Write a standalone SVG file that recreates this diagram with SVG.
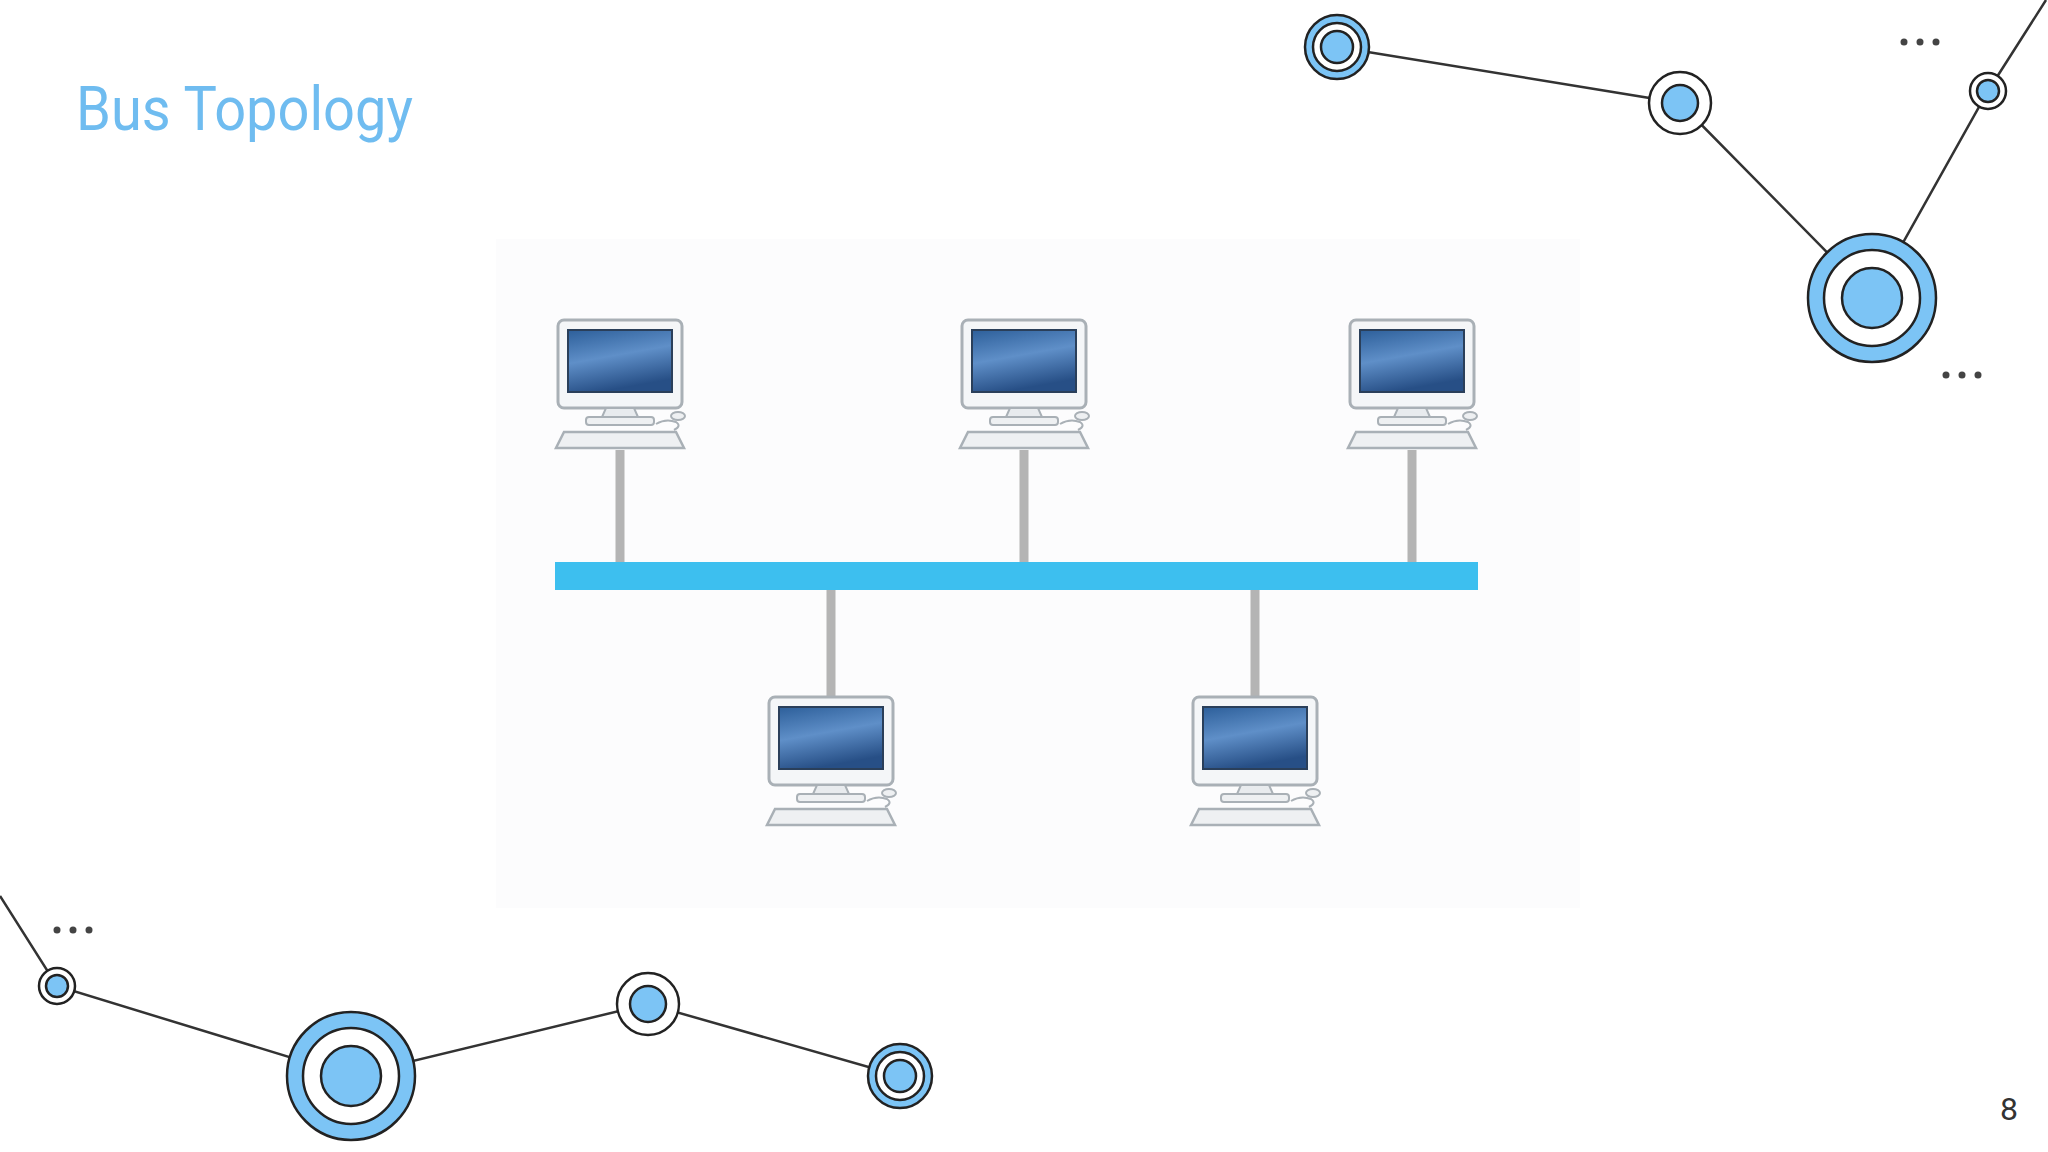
<svg xmlns="http://www.w3.org/2000/svg" width="2048" height="1152" viewBox="0 0 2048 1152">
<defs>
<style>
.ln{stroke:#333;stroke-width:2.5;fill:none}
.b{fill:#7cc4f5;stroke:#222;stroke-width:2.5}
.w{fill:#fff;stroke:#222;stroke-width:2.5}
.dot{fill:#444}
.drop{stroke:#b4b4b4;stroke-width:9}
</style>
<linearGradient id="scr" x1="0" y1="0" x2="0.3" y2="1">
<stop offset="0" stop-color="#2d5f9a"/><stop offset="0.5" stop-color="#5f8fc8"/><stop offset="1" stop-color="#274f86"/>
</linearGradient>
<g id="pc">
<rect x="-62" y="0" width="124" height="88" rx="6" fill="#f4f6f8" stroke="#a9b0b6" stroke-width="3"/>
<rect x="-52" y="10" width="104" height="62" fill="url(#scr)" stroke="#2a3f5a" stroke-width="2"/>
<path d="M-14 88 h28 l4 9 h-36z" fill="#e8ebee" stroke="#a9b0b6" stroke-width="2"/>
<rect x="-34" y="97" width="68" height="8" rx="3" fill="#eef0f2" stroke="#a9b0b6" stroke-width="2"/>
<path d="M-56 112 h112 l8 16 h-128z" fill="#eef0f2" stroke="#a9b0b6" stroke-width="2.5"/>
<path d="M36 104 q10 -6 20 -2 q6 4 -2 8" fill="none" stroke="#a9b0b6" stroke-width="2"/>
<ellipse cx="58" cy="96" rx="7" ry="4" fill="#eef0f2" stroke="#a9b0b6" stroke-width="2"/>
</g>
</defs>
<rect width="2048" height="1152" fill="#fff"/>
<text x="76" y="130" font-family="Roboto, 'Liberation Sans', sans-serif" font-size="62" fill="#6fbcf0" textLength="337" lengthAdjust="spacingAndGlyphs">Bus Topology</text>
<text x="2009" y="1120" font-family="Roboto, 'Liberation Sans', sans-serif" font-size="32" fill="#333" text-anchor="middle">8</text>
<g id="decor-lines">
<path class="ln" d="M1337 47 L1680 103 L1872 298 L1988 91 L2046 0"/>
<path class="ln" d="M0 896 L57 986 L351 1076 L648 1004 L900 1076"/>
</g>
<g id="c1"><circle class="b" cx="1337" cy="47" r="32"/><circle class="w" cx="1337" cy="47" r="24"/><circle class="b" cx="1337" cy="47" r="16"/></g>
<g id="c2"><circle class="w" cx="1680" cy="103" r="31"/><circle class="b" cx="1680" cy="103" r="18"/></g>
<g id="c3"><circle class="w" cx="1988" cy="91" r="18"/><circle class="b" cx="1988" cy="91" r="11"/></g>
<g id="c4"><circle class="b" cx="1872" cy="298" r="64"/><circle class="w" cx="1872" cy="298" r="48"/><circle class="b" cx="1872" cy="298" r="30"/></g>
<g id="c5"><circle class="w" cx="57" cy="986" r="18"/><circle class="b" cx="57" cy="986" r="11"/></g>
<g id="c6"><circle class="b" cx="351" cy="1076" r="64"/><circle class="w" cx="351" cy="1076" r="48"/><circle class="b" cx="351" cy="1076" r="30"/></g>
<g id="c7"><circle class="w" cx="648" cy="1004" r="31"/><circle class="b" cx="648" cy="1004" r="18"/></g>
<g id="c8"><circle class="b" cx="900" cy="1076" r="32"/><circle class="w" cx="900" cy="1076" r="24"/><circle class="b" cx="900" cy="1076" r="16"/></g>
<g id="dots">
<circle class="dot" cx="1904" cy="42" r="3.5"/><circle class="dot" cx="1920" cy="42" r="3.5"/><circle class="dot" cx="1936" cy="42" r="3.5"/>
<circle class="dot" cx="1946" cy="375" r="3.5"/><circle class="dot" cx="1962" cy="375" r="3.5"/><circle class="dot" cx="1978" cy="375" r="3.5"/>
<circle class="dot" cx="57" cy="930" r="3.5"/><circle class="dot" cx="73" cy="930" r="3.5"/><circle class="dot" cx="89" cy="930" r="3.5"/>
</g>
<rect x="496" y="239" width="1084" height="669" fill="#fcfcfd"/>
<g id="connectors">
<line class="drop" x1="620" y1="450" x2="620" y2="562"/>
<line class="drop" x1="1024" y1="450" x2="1024" y2="562"/>
<line class="drop" x1="1412" y1="450" x2="1412" y2="562"/>
<line class="drop" x1="831" y1="590" x2="831" y2="696"/>
<line class="drop" x1="1255" y1="590" x2="1255" y2="696"/>
</g>
<g id="bus"><rect x="555" y="562" width="923" height="28" fill="#3dbfef"/></g>
<g id="pc1"><use href="#pc" x="620" y="320"/></g>
<g id="pc2"><use href="#pc" x="1024" y="320"/></g>
<g id="pc3"><use href="#pc" x="1412" y="320"/></g>
<g id="pc4"><use href="#pc" x="831" y="697"/></g>
<g id="pc5"><use href="#pc" x="1255" y="697"/></g>
</svg>
